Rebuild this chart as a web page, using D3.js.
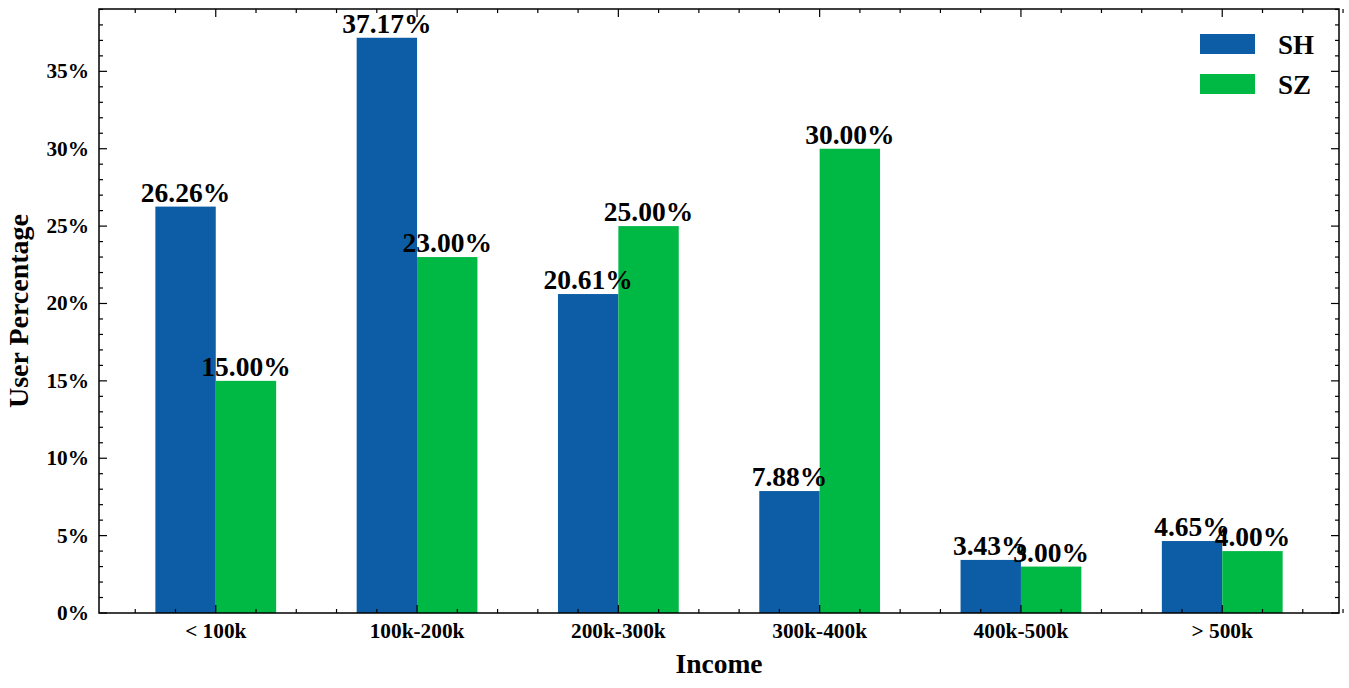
<!DOCTYPE html>
<html>
<head>
<meta charset="utf-8">
<script src="https://cdn.jsdelivr.net/npm/d3@7.9.0/dist/d3.min.js"></script>
<style>
  body { margin: 0; background: #fff; }
  svg { font-family: "Liberation Serif", "Times New Roman", serif; font-weight: bold; }
</style>
</head>
<body>
<svg id="chart" width="1349" height="688"></svg>
<script>
const categories = ['< 100k', '100k-200k', '200k-300k', '300k-400k', '400k-500k', '> 500k'];
const shValues = [26.26, 37.17, 20.61, 7.88, 3.43, 4.65];
const szValues = [15.00, 23.00, 25.00, 30.00, 3.00, 4.00];
const seriesNames = ['SH', 'SZ'];
const colors = ['#0C5DA5', '#00B945'];
const yTicks = [0, 5, 10, 15, 20, 25, 30, 35];

const margin = { left: 99, right: 10, top: 9, bottom: 75 };
const width = 1349, height = 688;
const barW = 0.3;

const svg = d3.select('#chart');

// numeric x like matplotlib: index units, 5% margins
let x = d3.scaleLinear()
  .domain([-0.3 - 0.28, categories.length - 1 + 0.3 + 0.28])
  .range([margin.left, width - margin.right]);

let yMax = d3.max(shValues.concat(szValues)) * 1.05;
let y = d3.scaleLinear()
  .domain([0, yMax])
  .range([height - margin.bottom, margin.top]);

const series = [shValues, szValues];
const offsets = [-barW / 2, barW / 2];

series.forEach((vals, s) => {
  svg.append('g')
    .selectAll('rect')
    .data(vals)
    .join('rect')
    .attr('x', (d, i) => x(i + offsets[s] - barW / 2))
    .attr('width', (d, i) => x(barW) - x(0))
    .attr('y', d => y(d))
    .attr('height', d => y(0) - y(d))
    .attr('fill', colors[s]);
});

// value labels
series.forEach((vals, s) => {
  svg.append('g')
    .selectAll('text')
    .data(vals)
    .join('text')
    .attr('x', (d, i) => x(i + offsets[s]))
    .attr('y', d => y(d) - 5)
    .attr('text-anchor', 'middle')
    .attr('font-size', 27.5)
    .text(d => d.toFixed(2) + '%');
});

// axes with inward ticks
const xMinor = d3.range(-0.4, categories.length - 0.2 + 0.4, 0.2)
  .map(v => Math.round(v * 10) / 10)
  .filter(v => Math.abs(v - Math.round(v)) > 1e-6);
const yMinor = d3.range(0, Math.floor(yMax) + 1, 1).filter(v => v % 5 !== 0);

const x0 = margin.left, x1 = width - margin.right;
const y0 = height - margin.bottom, y1 = margin.top;

function tickLines(g, vals, len, horiz, pos, dir) {
  g.selectAll(null).data(vals).join('line')
    .attr('x1', d => horiz ? x(d) : pos)
    .attr('x2', d => horiz ? x(d) : pos + dir * len)
    .attr('y1', d => horiz ? pos : y(d))
    .attr('y2', d => horiz ? pos + dir * len : y(d))
    .attr('stroke', '#000')
    .attr('stroke-width', 1.2);
}

const ticks = svg.append('g');
const xMajor = d3.range(categories.length);
tickLines(ticks, xMajor, 8, true, y0, -1);
tickLines(ticks, xMinor, 4, true, y0, -1);
tickLines(ticks, xMajor, 8, true, y1, 1);
tickLines(ticks, xMinor, 4, true, y1, 1);
tickLines(ticks, yTicks, 8, false, x0, 1);
tickLines(ticks, yMinor, 4, false, x0, 1);
tickLines(ticks, yTicks, 8, false, x1, -1);
tickLines(ticks, yMinor, 4, false, x1, -1);

svg.append('rect')
  .attr('x', x0).attr('y', y1)
  .attr('width', x1 - x0).attr('height', y0 - y1)
  .attr('fill', 'none').attr('stroke', '#000').attr('stroke-width', 1.5);

// tick labels
svg.append('g').selectAll('text').data(categories).join('text')
  .attr('x', (d, i) => x(i))
  .attr('y', y0 + 25)
  .attr('text-anchor', 'middle')
  .attr('font-size', 21.3)
  .text(d => d);

svg.append('g').selectAll('text').data(yTicks).join('text')
  .attr('x', x0 - 10)
  .attr('y', d => y(d) + 7)
  .attr('text-anchor', 'end')
  .attr('font-size', 21.3)
  .text(d => d + '%');

// axis titles
svg.append('text')
  .attr('x', (x0 + x1) / 2)
  .attr('y', 673)
  .attr('text-anchor', 'middle')
  .attr('font-size', 27.5)
  .text('Income');

svg.append('text')
  .attr('transform', `translate(28, ${(y0 + y1) / 2}) rotate(-90)`)
  .attr('text-anchor', 'middle')
  .attr('font-size', 28)
  .text('User Percentage');

// legend
const legend = svg.append('g').attr('transform', 'translate(1200, 34)');
seriesNames.forEach((name, i) => {
  legend.append('rect')
    .attr('x', 0).attr('y', i * 40)
    .attr('width', 55).attr('height', 20)
    .attr('fill', colors[i]);
  legend.append('text')
    .attr('x', 78).attr('y', i * 40 + 20)
    .attr('font-size', 27)
    .text(name);
});
</script>
</body>
</html>
